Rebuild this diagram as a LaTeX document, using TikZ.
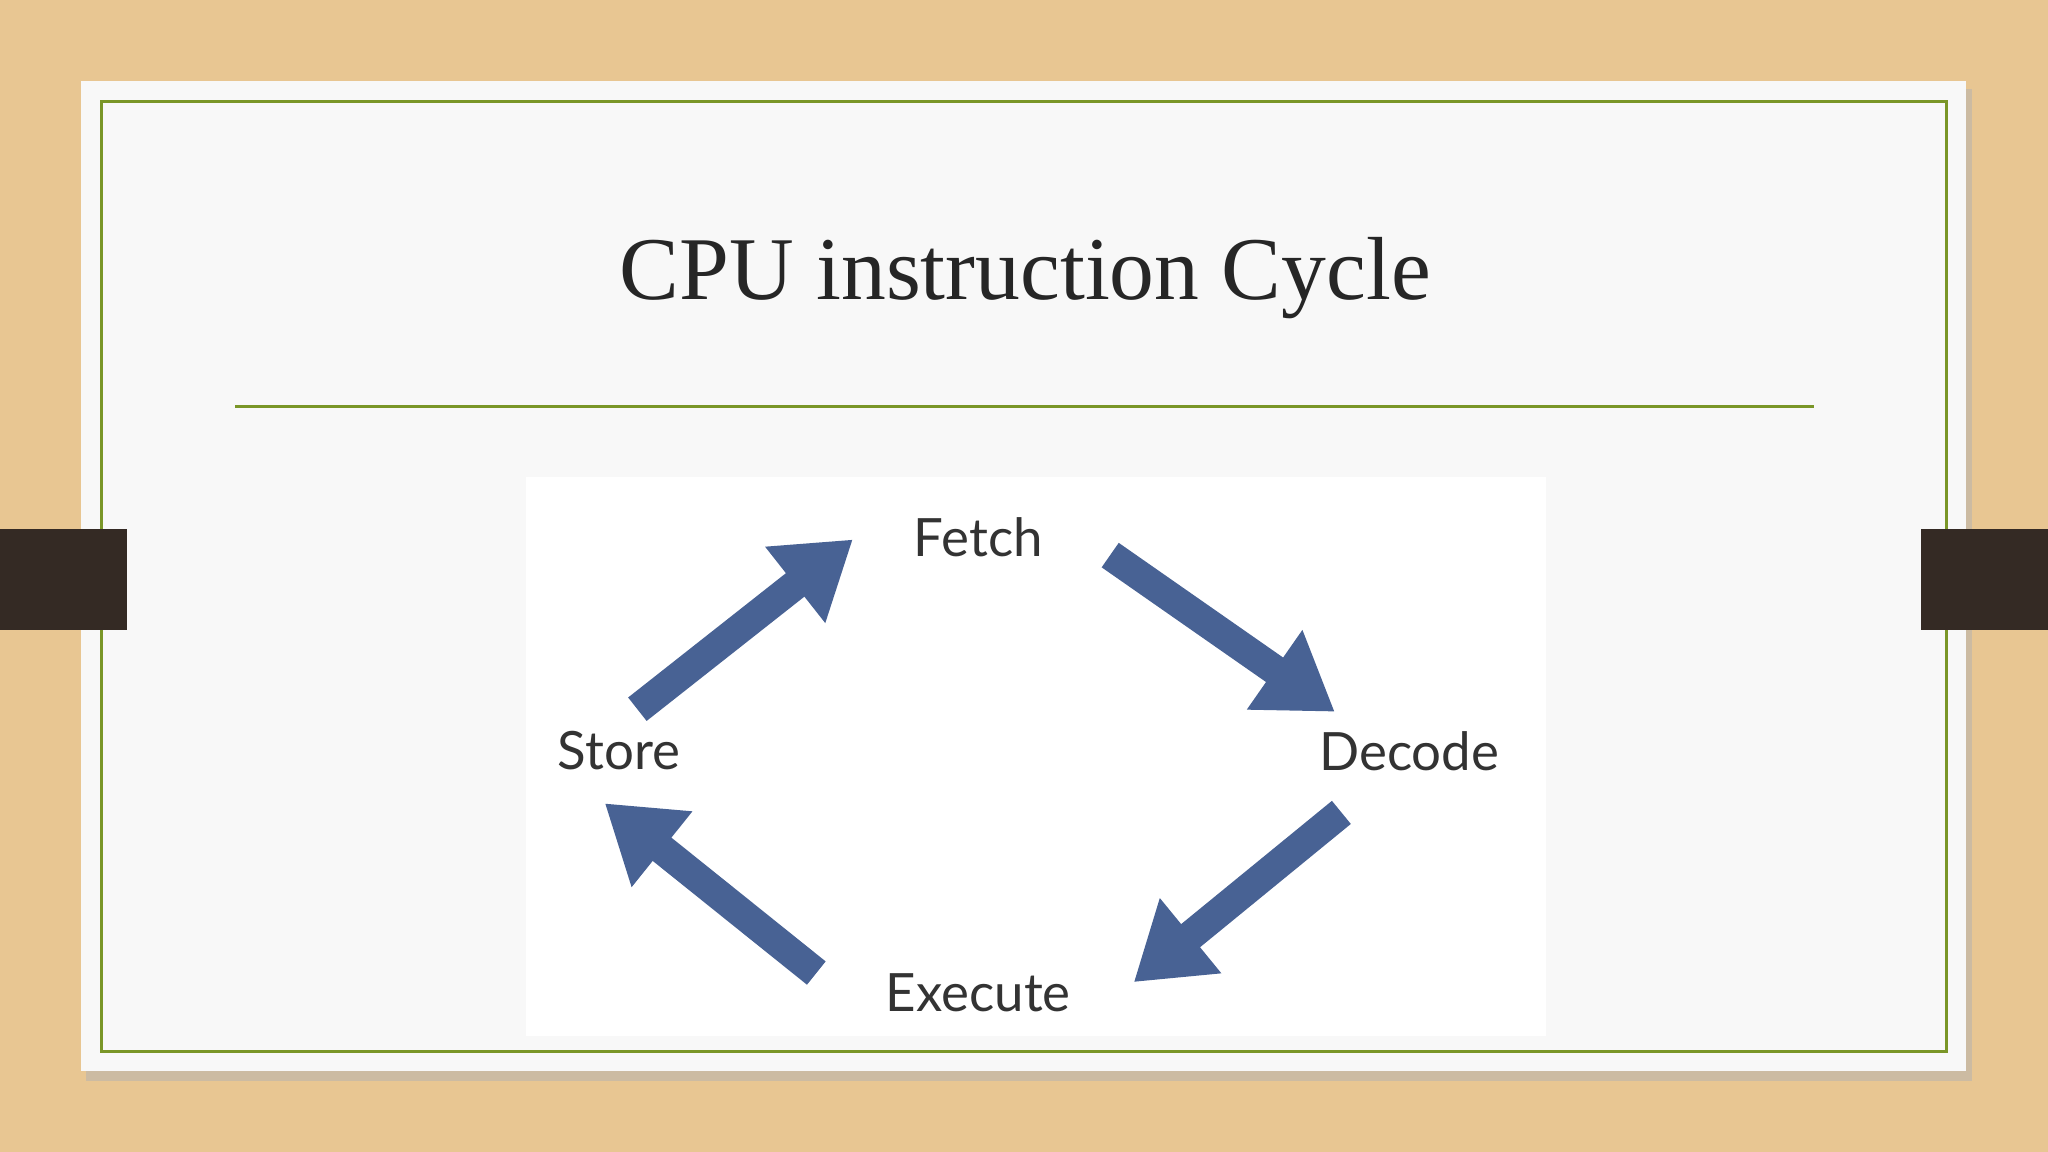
\documentclass[tikz,border=0pt]{standalone}
\usepackage{fontspec}
\setmainfont{Liberation Serif}
\newfontfamily\lab{Lato}
\usetikzlibrary{arrows.meta}
\definecolor{wood}{RGB}{232,198,146}
\definecolor{olive}{RGB}{122,150,40}
\definecolor{tabc}{RGB}{52,42,36}
\definecolor{arr}{RGB}{72,98,148}
\definecolor{slide}{RGB}{248,248,248}
\tikzset{
  lbl/.style={font=\lab\fontsize{11.5pt}{13pt}\selectfont, text=black!80},
  cyc/.style={line width=6.5pt, arr, -{Triangle[length=16pt,width=20pt]}},
}
\begin{document}
\begin{tikzpicture}[x=0.01cm,y=-0.01cm]
\useasboundingbox (0,0) rectangle (1568,882);
\fill[wood] (0,0) rectangle (1568,882);
\fill[black!30,opacity=0.5] (66,68) rectangle (1510,828);
\fill[slide] (62,62) rectangle (1505,820);
\draw[olive,line width=0.6pt] (78,78) rectangle (1490,805);
\fill[tabc] (0,405) rectangle (97,482);
\fill[tabc] (1471,405) rectangle (1568,482);
\node[font=\fontsize{19.5pt}{22pt}\selectfont, text=black!85] (title) at (785,213) {CPU instruction Cycle};
\coordinate (l1) at (180,311); \coordinate (l2) at (1389,311);
\draw[olive,line width=0.6pt] (l1) -- (l2);
\fill[white] (403,365) rectangle (1184,793);
\node[lbl] (fetch) at (749,411) {Fetch};
\node[lbl] (decode) at (1079,575) {Decode};
\node[lbl] (store) at (474,575) {Store};
\node[lbl] (execute) at (749,760) {Execute};
\coordinate (a1) at (850,425); \coordinate (a2) at (1022,545);
\coordinate (b1) at (1027,622); \coordinate (b2) at (868,752);
\coordinate (c1) at (625,745); \coordinate (c2) at (463,615);
\coordinate (d1) at (488,543); \coordinate (d2) at (653,413);
\draw[cyc] (a1) -- (a2);
\draw[cyc] (b1) -- (b2);
\draw[cyc] (c1) -- (c2);
\draw[cyc] (d1) -- (d2);
\end{tikzpicture}
\end{document}
